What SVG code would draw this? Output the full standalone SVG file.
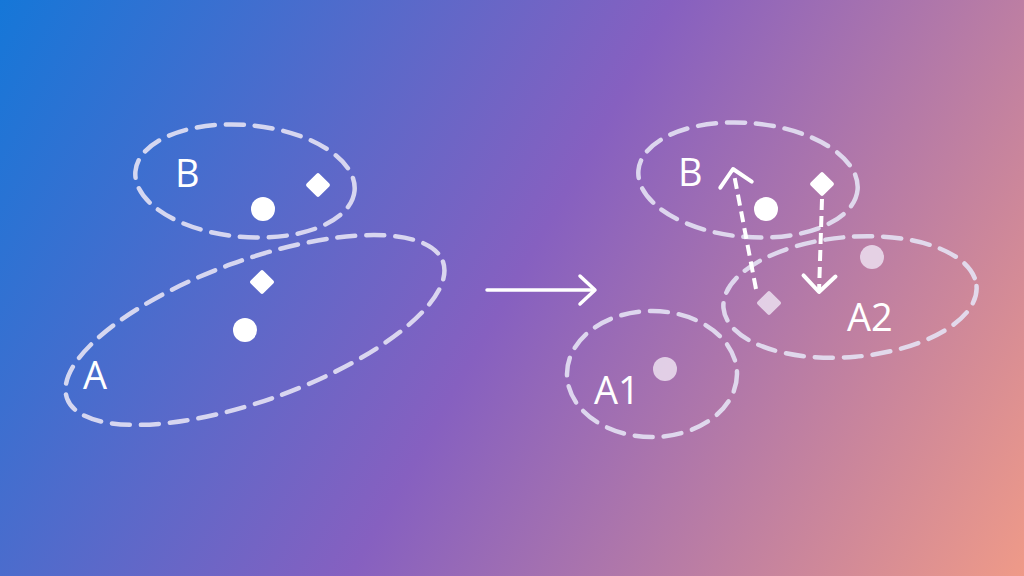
<svg xmlns="http://www.w3.org/2000/svg" width="1024" height="576" viewBox="0 0 1024 576">
<defs>
<linearGradient id="bg" x1="0" y1="0" x2="1024" y2="576" gradientUnits="userSpaceOnUse">
<stop offset="0" stop-color="#1577d8"/>
<stop offset="0.5" stop-color="#8660c0"/>
<stop offset="1" stop-color="#ef9a88"/>
</linearGradient>
<marker id="chev" viewBox="-22 -22 26 44" markerWidth="26" markerHeight="44" markerUnits="userSpaceOnUse" refX="0" refY="0" orient="auto">
<path d="M-16,-16 L0,0 L-16,16" fill="none" stroke="#fff" stroke-width="4" stroke-linecap="round" stroke-linejoin="round"/>
</marker>
</defs>
<style>
.set{fill:none;stroke:#e4e2f4;stroke-opacity:0.9;stroke-width:4.5;stroke-dasharray:18 11;stroke-linecap:round}
.lbl{font-family:"Open Sans","Noto Sans",sans-serif;font-size:38px;font-weight:500;fill:#fff}
.pt{fill:#fff}
.ghost{fill:#ecdff0;opacity:0.85}
.move{fill:none;stroke:#fff;stroke-width:4;stroke-dasharray:11 6}
</style>
<rect width="1024" height="576" fill="url(#bg)"/>
<g id="left-B">
<ellipse class="set" cx="245" cy="181" rx="110" ry="56" transform="rotate(5 245 181)"/>
<text class="lbl" x="175" y="187">B</text>
<circle class="pt" cx="263" cy="209" r="12"/>
<rect class="pt" x="309" y="176" width="18" height="18" rx="2" transform="rotate(45 318 185)"/>
</g>
<g id="left-A">
<ellipse class="set" cx="255" cy="330" rx="200" ry="70" transform="rotate(-20 255 330)"/>
<text class="lbl" x="83" y="389">A</text>
<rect class="pt" x="253" y="273" width="18" height="18" rx="2" transform="rotate(45 262 282)"/>
<circle class="pt" cx="245" cy="330" r="12"/>
</g>
<g id="right-B">
<ellipse class="set" cx="748" cy="180" rx="110" ry="57" transform="rotate(5 748 180)"/>
<text class="lbl" x="678" y="186">B</text>
<circle class="pt" cx="766" cy="209" r="12"/>
<rect class="pt" x="813" y="175" width="18" height="18" rx="2" transform="rotate(45 822 184)"/>
</g>
<g id="right-A2">
<ellipse class="set" cx="850" cy="297" rx="127" ry="60" transform="rotate(-5 850 297)"/>
<text class="lbl" x="847" y="331">A2</text>
<circle class="ghost" cx="872" cy="257" r="12"/>
<rect class="ghost" x="760" y="294" width="18" height="18" rx="2" transform="rotate(45 769 303)"/>
</g>
<g id="right-A1">
<ellipse class="set" cx="652" cy="374" rx="85" ry="63"/>
<text class="lbl" x="594" y="404">A1</text>
<circle class="ghost" cx="665" cy="369" r="12"/>
</g>
<g id="connectors">
<line x1="487" y1="290" x2="594" y2="290" stroke="#fff" stroke-width="3.5" stroke-linecap="round"/>
<path d="M580,276 L595,290 L580,304" fill="none" stroke="#fff" stroke-width="3.5" stroke-linecap="round" stroke-linejoin="round"/>
<line class="move" x1="756" y1="289" x2="733" y2="169" marker-end="url(#chev)"/>
<line class="move" x1="822" y1="199" x2="819" y2="292" marker-end="url(#chev)"/>
</g>
</svg>
